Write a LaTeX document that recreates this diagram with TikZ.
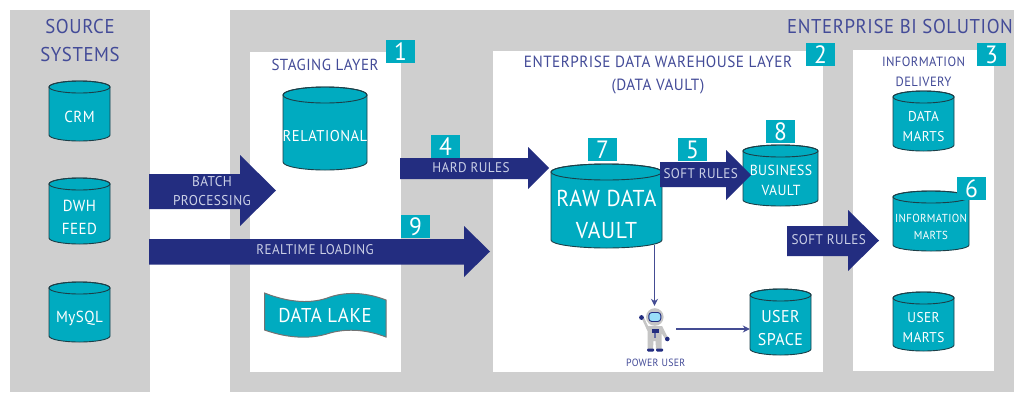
\documentclass[tikz,border=0pt]{standalone}
\usepackage{fontspec}
\setmainfont[FakeStretch=0.94,LetterSpace=3]{PT Sans}
\usetikzlibrary{calc,arrows.meta}
\definecolor{panelgray}{HTML}{CFCFCF}
\definecolor{tealc}{HTML}{00ABC0}
\definecolor{navy}{HTML}{232D80}
\definecolor{labelc}{HTML}{434B98}
\definecolor{softc}{HTML}{CBD0E6}
\definecolor{edgec}{HTML}{1C3F48}
\newcommand{\fs}[2]{\fontsize{#1}{#2}\selectfont}
\tikzset{
  panel/.style={fill=panelgray,draw=none},
  whitepanel/.style={fill=white,draw=none},
  tagbox/.style={fill=tealc,text=white,minimum width=29pt,minimum height=23pt,inner sep=0pt,font=\fs{25}{25}},
  head/.style={text=labelc,align=center,inner sep=0pt},
  onarrow/.style={text=softc,align=center,inner sep=0pt},
  dbtext/.style={text=white,align=center,inner sep=0pt},
  blockfill/.style={fill=navy,draw=none},
  thinlink/.style={draw=navy!85!white,line width=1.1pt,-{Stealth[length=7pt,width=7pt]}},
}
% name, x1, y1, x2, y2, ry, font size, line spacing, text
\newcommand{\dbase}[9]{%
  \filldraw[fill=tealc,draw=edgec,line width=0.9pt,line join=round]
    (#2,#3+#6) -- (#2,#5-#6)
    arc[start angle=180,end angle=360,x radius={(#4-#2)/2*1pt},y radius=#6pt]
    -- (#4,#3+#6)
    arc[start angle=0,end angle=180,x radius={(#4-#2)/2*1pt},y radius=#6pt] -- cycle;
  \draw[edgec,line width=0.9pt] ({(#2+#4)/2},#3+#6) ellipse[x radius={(#4-#2)/2*1pt},y radius=#6pt];
  \node[minimum width={(#4-#2)*1pt},minimum height={(#5-#3)*1pt},inner sep=0pt] (#1) at ({(#2+#4)/2},{(#3+#5)/2}) {};
  \node[dbtext,font=\fs{#7}{#8}] (#1txt) at ({(#2+#4)/2},{(#3+#5)/2+#6}) {#9};
}
% x0, xhead, xtip, shaft top, shaft bottom, head top, head bottom
\newcommand{\blockarrow}[7]{%
  \path[blockfill] (#1,#4) -- (#2,#4) -- (#2,#6) -- (#3,{(#6+#7)/2}) -- (#2,#7) -- (#2,#5) -- (#1,#5) -- cycle;
}
\begin{document}
\begin{tikzpicture}[x=1pt,y=-1pt]
\useasboundingbox (0,0) rectangle (1024,402);
% panels
\path[panel] (10,10) rectangle (150,392);
\path[panel] (230,10) rectangle (1014,392);
\path[whitepanel] (250,52) rectangle (400.5,372);
\path[whitepanel] (493,51) rectangle (823,372);
\path[whitepanel] (853,50) rectangle (994,371);
% panel headings
\node[head,font=\fs{20}{28}] (srctitle) at (80,40) {SOURCE\\SYSTEMS};
\node[head,font=\fs{20}{20}] (bititle) at (900,26) {ENTERPRISE BI SOLUTION};
\node[head,font=\fs{16}{16}] (stagetitle) at (325,65) {STAGING LAYER};
\node[head,font=\fs{16.2}{23}] (edwtitle) at (658,75.5) {ENTERPRISE DATA WAREHOUSE LAYER\\(DATA VAULT)};
\node[head,font=\fs{13.4}{20}] (infotitle) at (923.5,72) {INFORMATION\\DELIVERY};
% source systems
\dbase{crm}{49}{81}{110}{141}{6}{16}{23}{CRM}
\dbase{dwh}{49}{178}{110}{244}{6}{16}{23}{DWH\\FEED}
\dbase{mysql}{49}{282}{110}{342}{6}{16}{23}{MySQL}
% staging
\dbase{rel}{283}{87}{367}{170}{8}{15.6}{20}{RELATIONAL}
\path[fill=tealc,draw=gray!90!black,line width=1pt]
  (264.5,293) .. controls (290,303) and (312,304) .. (330,297)
  .. controls (348,291) and (368,293) .. (386,300)
  -- (386,337) .. controls (368,330) and (348,328) .. (330,333)
  .. controls (312,339) and (290,339) .. (264.5,330) -- cycle;
\node[dbtext,font=\fs{20}{20}] (lake) at (325,315) {DATA LAKE};
% arrows
\blockarrow{149}{240}{276}{174}{209}{155}{226}
\blockarrow{149}{464}{490}{239}{264.5}{226}{277}
\blockarrow{400}{528}{549}{158}{179}{147}{189}
\blockarrow{787}{848}{879}{226}{256}{210}{271}
% cylinders in EDW
\dbase{raw}{551}{164}{662}{248}{8}{23}{32}{RAW DATA\\VAULT}
\dbase{biz}{743}{145}{818}{206}{6}{15}{20}{}
\dbase{space}{750}{289}{811}{355}{6}{17}{23}{USER\\SPACE}
\blockarrow{660}{726}{751}{162}{187}{150}{200}
\node[dbtext,font=\fs{14.6}{20}] (biztext) at (781,180) {BUSINESS\\VAULT};
% info delivery
\dbase{dm}{893}{91}{954}{151}{6}{14.2}{20}{DATA\\MARTS}
\dbase{im}{893}{191}{969}{251}{6}{11.6}{17.5}{INFORMATION\\MARTS}
\dbase{um}{893}{292}{954}{351}{6}{14.2}{20}{USER\\MARTS}
% arrow labels
\node[onarrow,font=\fs{14.2}{19.5}] (batch) at (212,191) {BATCH\\PROCESSING};
\node[onarrow,font=\fs{14}{14}] (rt) at (315,250) {REALTIME LOADING};
\node[onarrow,font=\fs{14}{14}] (hard) at (471,168) {HARD RULES};
\node[onarrow,font=\fs{14}{14}] (soft1) at (700.7,174) {SOFT RULES};
\node[onarrow,font=\fs{14}{14}] (soft2) at (828.7,240) {SOFT RULES};
% tags
\node[tagbox] (t1) at (400.5,51.5) {1};
\node[tagbox] (t2) at (820.5,54.5) {2};
\node[tagbox] (t3) at (991.5,54.5) {3};
\node[tagbox] (t4) at (445.5,146.5) {4};
\node[tagbox] (t5) at (692.5,149.5) {5};
\node[tagbox] (t6) at (971.5,188.5) {6};
\node[tagbox] (t7) at (602.5,149.5) {7};
\node[tagbox] (t8) at (780.5,131.5) {8};
\node[tagbox] (t9) at (415.5,226.5) {9};
% power user
\node[minimum width=43pt,minimum height=46pt,inner sep=0pt] (astro) at (654.5,329) {};
\fill[panelgray!95!black] (648,326) -- (662,326) -- (668,338) -- (665.5,339.5) -- (661.5,333) -- (661.5,349) -- (656,349) -- (655.5,341) -- (653.5,341) -- (653,349) -- (647.5,349) -- (647.5,331) -- (642,319) -- (644,317.5) -- cycle;
\fill[panelgray!95!black] (654.8,317) circle[radius=8.8pt];
\filldraw[fill=cyan!40!white,draw=navy,line width=0.9pt,rounded corners=3pt] (648.8,312.5) rectangle (660.8,321.5);
\fill[navy] (651.5,329) rectangle (659,332.5);
\fill[navy!70!white] (654,332.5) rectangle (655.5,338);
\fill[navy] (641.5,317.5) circle[radius=2.4pt];
\fill[navy] (667.3,339) circle[radius=2.3pt];
\fill[navy,rounded corners=1pt] (647,348.5) rectangle (654,351.5);
\fill[navy,rounded corners=1pt] (656,348.5) rectangle (663,351.5);
\node[head,font=\fs{10.5}{10.5}] (pu) at (655.7,363) {POWER USER};
% connectors
\draw[thinlink] ([yshift=3pt]raw.south -| astro.north) -- (astro.north);
\draw[thinlink] (astro.east) -- (astro.east -| space.west);
\end{tikzpicture}
\end{document}
